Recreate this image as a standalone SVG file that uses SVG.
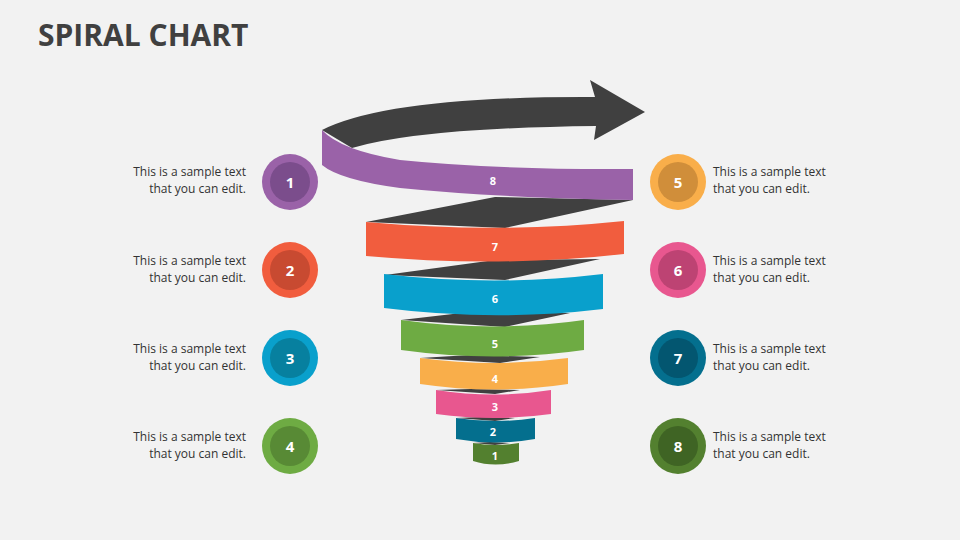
<svg xmlns="http://www.w3.org/2000/svg" width="960" height="540" viewBox="0 0 960 540">
<style>
.t{font-family:"Open Sans","Liberation Sans",sans-serif;font-size:12px;fill:#333}
.n{font-family:"Open Sans","Liberation Sans",sans-serif;font-size:15px;font-weight:bold;fill:#fff;text-anchor:middle}
.b{font-family:"Open Sans","Liberation Sans",sans-serif;font-size:11px;font-weight:bold;fill:#fff;text-anchor:middle}
.d{fill:#404040}
</style>
<rect width="960" height="540" fill="#f2f2f2"/>
<text x="38" y="46" font-family="Open Sans, Liberation Sans, sans-serif" font-size="30" font-weight="bold" fill="#404040">SPIRAL CHART</text>
<g id="connectors">
<path class="d" d="M322,130 Q390,96 595,97 L590,80 L645,112 L594,140 L596,126 Q420,128 352,148 Z"/>
<path class="d" d="M366,222 L495,197 L633,200 L505,228 Z"/>
<path class="d" d="M385,275 L495,260 L600,259 L505,280 Z"/>
<path class="d" d="M401,320 L470,312 L570,313 L505,327 Z"/>
<path class="d" d="M420,358 L470,355 L540,357 L500,363 Z"/>
<path class="d" d="M436,390 L470,389 L520,390 L495,394 Z"/>
<path class="d" d="M456,418 L480,417 L515,418 L495,421 Z"/>
<path class="d" d="M473,443 L490,442 L510,443 L495,445 Z"/>
</g>
<g id="spiral">
<path fill="#9A62A8" d="M322,130 Q340,150 400,160 Q500,170 633,169 L633,200 Q500,198 400,188 Q340,180 322,165 Z"/>
<path fill="#F15D3E" d="M366,222 Q500,234 624,221 L624,254 Q500,268 366,256 Z"/>
<path fill="#09A0CC" d="M384,274 Q495,287 603,274 L603,309 Q495,322 384,308 Z"/>
<path fill="#6EAB43" d="M401,320 Q495,333 584,320 L584,350 Q495,363 401,350 Z"/>
<path fill="#F9AE4A" d="M420,358 Q495,368 568,358 L568,384 Q495,395 420,384 Z"/>
<path fill="#E8578F" d="M436,390 Q495,399 551,390 L551,414 Q495,422 436,414 Z"/>
<path fill="#046F8E" d="M456,418 Q495,424 535,418 L535,439 Q495,446 456,439 Z"/>
<path fill="#53802F" d="M473,443 Q495,447 519,443 L519,461 Q495,468 473,461 Z"/>
<text class="b" x="493" y="185">8</text>
<text class="b" x="495" y="251">7</text>
<text class="b" x="495" y="303">6</text>
<text class="b" x="495" y="348">5</text>
<text class="b" x="495" y="383">4</text>
<text class="b" x="495" y="411">3</text>
<text class="b" x="493" y="436">2</text>
<text class="b" x="495" y="460">1</text>
</g>
<g id="node1"><circle cx="290" cy="182" r="28" fill="#9A62A8"/><circle cx="290" cy="182" r="20" fill="#7B4D8C"/><text class="n" x="290" y="188">1</text>
<text class="t" text-anchor="end" x="246" y="176">This is a sample text</text><text class="t" text-anchor="end" x="246" y="193">that you can edit.</text></g>
<g id="node2"><circle cx="290" cy="270" r="28" fill="#F15D3E"/><circle cx="290" cy="270" r="20" fill="#C84A31"/><text class="n" x="290" y="276">2</text>
<text class="t" text-anchor="end" x="246" y="265">This is a sample text</text><text class="t" text-anchor="end" x="246" y="282">that you can edit.</text></g>
<g id="node3"><circle cx="290" cy="358" r="28" fill="#09A0CC"/><circle cx="290" cy="358" r="20" fill="#07809F"/><text class="n" x="290" y="364">3</text>
<text class="t" text-anchor="end" x="246" y="353">This is a sample text</text><text class="t" text-anchor="end" x="246" y="370">that you can edit.</text></g>
<g id="node4"><circle cx="290" cy="446" r="28" fill="#6EAB43"/><circle cx="290" cy="446" r="20" fill="#588A35"/><text class="n" x="290" y="452">4</text>
<text class="t" text-anchor="end" x="246" y="441">This is a sample text</text><text class="t" text-anchor="end" x="246" y="458">that you can edit.</text></g>
<g id="node5"><circle cx="678" cy="182" r="28" fill="#F9AE4A"/><circle cx="678" cy="182" r="20" fill="#D08E3A"/><text class="n" x="678" y="188">5</text>
<text class="t" x="713" y="176">This is a sample text</text><text class="t" x="713" y="193">that you can edit.</text></g>
<g id="node6"><circle cx="678" cy="270" r="28" fill="#E8578F"/><circle cx="678" cy="270" r="20" fill="#BD4373"/><text class="n" x="678" y="276">6</text>
<text class="t" x="713" y="265">This is a sample text</text><text class="t" x="713" y="282">that you can edit.</text></g>
<g id="node7"><circle cx="678" cy="358" r="28" fill="#046F8E"/><circle cx="678" cy="358" r="20" fill="#035670"/><text class="n" x="678" y="364">7</text>
<text class="t" x="713" y="353">This is a sample text</text><text class="t" x="713" y="370">that you can edit.</text></g>
<g id="node8"><circle cx="678" cy="446" r="28" fill="#53802F"/><circle cx="678" cy="446" r="20" fill="#3F6424"/><text class="n" x="678" y="452">8</text>
<text class="t" x="713" y="441">This is a sample text</text><text class="t" x="713" y="458">that you can edit.</text></g>
</svg>
